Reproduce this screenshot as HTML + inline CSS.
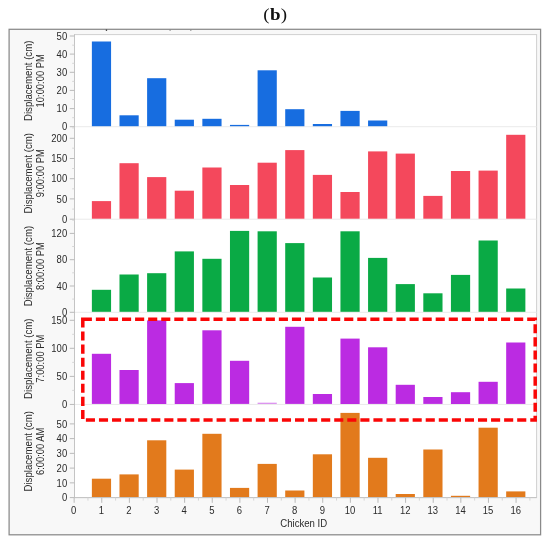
<!DOCTYPE html>
<html><head><meta charset="utf-8"><title>(b)</title>
<style>
html,body{margin:0;padding:0;background:#fff}
svg{display:block}
.t{font-family:"Liberation Sans",sans-serif;font-size:10px;fill:#2b2b2b}
.ttl{font-family:"Liberation Serif",serif;font-size:17px;fill:#111;letter-spacing:0.3px}
</style></head><body>
<svg width="550" height="545" viewBox="0 0 550 545">
<rect width="550" height="545" fill="#fff"/>
<rect x="9.1" y="29.3" width="531.5" height="505.5" fill="#f8f8f8" stroke="#8a8a8a" stroke-width="1.25"/>
<rect x="74.5" y="34.6" width="462.1" height="463.0" fill="#fff" stroke="#d0d0d0" stroke-width="1"/>
<line x1="74.5" x2="536.6" y1="126.7" y2="126.7" stroke="#eaeaea" stroke-width="1"/>
<line x1="74.5" x2="536.6" y1="219.2" y2="219.2" stroke="#eaeaea" stroke-width="1"/>
<line x1="74.5" x2="536.6" y1="312.3" y2="312.3" stroke="#eaeaea" stroke-width="1"/>
<line x1="74.5" x2="536.6" y1="404.45" y2="404.45" stroke="#eaeaea" stroke-width="1"/>
<rect x="91.87" y="41.5" width="19.2" height="84.7" fill="#176de0"/>
<rect x="119.49" y="115.3" width="19.2" height="10.9" fill="#176de0"/>
<rect x="147.11" y="78.2" width="19.2" height="48.0" fill="#176de0"/>
<rect x="174.73" y="119.7" width="19.2" height="6.5" fill="#176de0"/>
<rect x="202.35" y="118.8" width="19.2" height="7.4" fill="#176de0"/>
<rect x="229.97" y="124.9" width="19.2" height="1.3" fill="#176de0"/>
<rect x="257.59" y="70.3" width="19.2" height="55.9" fill="#176de0"/>
<rect x="285.21" y="109.2" width="19.2" height="17.0" fill="#176de0"/>
<rect x="312.83" y="124.0" width="19.2" height="2.2" fill="#176de0"/>
<rect x="340.45" y="110.9" width="19.2" height="15.3" fill="#176de0"/>
<rect x="368.07" y="120.5" width="19.2" height="5.7" fill="#176de0"/>
<rect x="91.87" y="201.1" width="19.2" height="17.6" fill="#f4485c"/>
<rect x="119.49" y="163.2" width="19.2" height="55.5" fill="#f4485c"/>
<rect x="147.11" y="177.1" width="19.2" height="41.6" fill="#f4485c"/>
<rect x="174.73" y="190.7" width="19.2" height="28.0" fill="#f4485c"/>
<rect x="202.35" y="167.5" width="19.2" height="51.2" fill="#f4485c"/>
<rect x="229.97" y="185.0" width="19.2" height="33.7" fill="#f4485c"/>
<rect x="257.59" y="162.7" width="19.2" height="56.0" fill="#f4485c"/>
<rect x="285.21" y="150.1" width="19.2" height="68.6" fill="#f4485c"/>
<rect x="312.83" y="174.9" width="19.2" height="43.8" fill="#f4485c"/>
<rect x="340.45" y="192.0" width="19.2" height="26.7" fill="#f4485c"/>
<rect x="368.07" y="151.4" width="19.2" height="67.3" fill="#f4485c"/>
<rect x="395.69" y="153.6" width="19.2" height="65.1" fill="#f4485c"/>
<rect x="423.31" y="195.9" width="19.2" height="22.8" fill="#f4485c"/>
<rect x="450.93" y="171.0" width="19.2" height="47.7" fill="#f4485c"/>
<rect x="478.55" y="170.6" width="19.2" height="48.1" fill="#f4485c"/>
<rect x="506.17" y="134.8" width="19.2" height="83.9" fill="#f4485c"/>
<rect x="91.87" y="289.8" width="19.2" height="22.0" fill="#0aaa45"/>
<rect x="119.49" y="274.5" width="19.2" height="37.3" fill="#0aaa45"/>
<rect x="147.11" y="273.2" width="19.2" height="38.6" fill="#0aaa45"/>
<rect x="174.73" y="251.4" width="19.2" height="60.4" fill="#0aaa45"/>
<rect x="202.35" y="258.8" width="19.2" height="53.0" fill="#0aaa45"/>
<rect x="229.97" y="230.9" width="19.2" height="80.9" fill="#0aaa45"/>
<rect x="257.59" y="231.3" width="19.2" height="80.5" fill="#0aaa45"/>
<rect x="285.21" y="243.1" width="19.2" height="68.7" fill="#0aaa45"/>
<rect x="312.83" y="277.5" width="19.2" height="34.3" fill="#0aaa45"/>
<rect x="340.45" y="231.3" width="19.2" height="80.5" fill="#0aaa45"/>
<rect x="368.07" y="257.9" width="19.2" height="53.9" fill="#0aaa45"/>
<rect x="395.69" y="284.1" width="19.2" height="27.7" fill="#0aaa45"/>
<rect x="423.31" y="293.3" width="19.2" height="18.5" fill="#0aaa45"/>
<rect x="450.93" y="274.9" width="19.2" height="36.9" fill="#0aaa45"/>
<rect x="478.55" y="240.5" width="19.2" height="71.3" fill="#0aaa45"/>
<rect x="506.17" y="288.5" width="19.2" height="23.3" fill="#0aaa45"/>
<rect x="91.87" y="353.8" width="19.2" height="50.1" fill="#bb2be2"/>
<rect x="119.49" y="370.0" width="19.2" height="33.9" fill="#bb2be2"/>
<rect x="147.11" y="320.4" width="19.2" height="83.6" fill="#bb2be2"/>
<rect x="174.73" y="383.1" width="19.2" height="20.9" fill="#bb2be2"/>
<rect x="202.35" y="330.3" width="19.2" height="73.6" fill="#bb2be2"/>
<rect x="229.97" y="360.8" width="19.2" height="43.1" fill="#bb2be2"/>
<rect x="257.59" y="402.7" width="19.2" height="1.2" fill="#bb2be2" fill-opacity="0.55"/>
<rect x="285.21" y="326.8" width="19.2" height="77.1" fill="#bb2be2"/>
<rect x="312.83" y="394.0" width="19.2" height="9.9" fill="#bb2be2"/>
<rect x="340.45" y="338.6" width="19.2" height="65.4" fill="#bb2be2"/>
<rect x="368.07" y="347.3" width="19.2" height="56.6" fill="#bb2be2"/>
<rect x="395.69" y="384.8" width="19.2" height="19.1" fill="#bb2be2"/>
<rect x="423.31" y="397.0" width="19.2" height="6.9" fill="#bb2be2"/>
<rect x="450.93" y="392.2" width="19.2" height="11.8" fill="#bb2be2"/>
<rect x="478.55" y="381.8" width="19.2" height="22.1" fill="#bb2be2"/>
<rect x="506.17" y="342.5" width="19.2" height="61.4" fill="#bb2be2"/>
<rect x="91.87" y="478.7" width="19.2" height="18.4" fill="#e27a1c"/>
<rect x="119.49" y="474.4" width="19.2" height="22.7" fill="#e27a1c"/>
<rect x="147.11" y="440.3" width="19.2" height="56.8" fill="#e27a1c"/>
<rect x="174.73" y="469.6" width="19.2" height="27.5" fill="#e27a1c"/>
<rect x="202.35" y="433.8" width="19.2" height="63.3" fill="#e27a1c"/>
<rect x="229.97" y="487.9" width="19.2" height="9.2" fill="#e27a1c"/>
<rect x="257.59" y="463.9" width="19.2" height="33.2" fill="#e27a1c"/>
<rect x="285.21" y="490.5" width="19.2" height="6.6" fill="#e27a1c"/>
<rect x="312.83" y="454.3" width="19.2" height="42.8" fill="#e27a1c"/>
<rect x="340.45" y="412.9" width="19.2" height="84.2" fill="#e27a1c"/>
<rect x="368.07" y="457.8" width="19.2" height="39.3" fill="#e27a1c"/>
<rect x="395.69" y="494.0" width="19.2" height="3.1" fill="#e27a1c"/>
<rect x="423.31" y="449.5" width="19.2" height="47.6" fill="#e27a1c"/>
<rect x="450.93" y="495.8" width="19.2" height="1.3" fill="#e27a1c"/>
<rect x="478.55" y="427.7" width="19.2" height="69.4" fill="#e27a1c"/>
<rect x="506.17" y="491.4" width="19.2" height="5.7" fill="#e27a1c"/>
<line x1="74.5" x2="74.5" y1="34.3" y2="497.6" stroke="#c4c4c4" stroke-width="1"/>
<line x1="74.5" x2="536.6" y1="497.6" y2="497.6" stroke="#c4c4c4" stroke-width="1"/>
<line x1="69.8" x2="74.5" y1="126.7" y2="126.7" stroke="#bababa" stroke-width="1"/>
<text transform="translate(67.2,130.3) scale(0.95,1)" text-anchor="end" class="t">0</text>
<line x1="69.8" x2="74.5" y1="108.6" y2="108.6" stroke="#bababa" stroke-width="1"/>
<text transform="translate(67.2,112.2) scale(0.95,1)" text-anchor="end" class="t">10</text>
<line x1="69.8" x2="74.5" y1="90.4" y2="90.4" stroke="#bababa" stroke-width="1"/>
<text transform="translate(67.2,94.0) scale(0.95,1)" text-anchor="end" class="t">20</text>
<line x1="69.8" x2="74.5" y1="72.3" y2="72.3" stroke="#bababa" stroke-width="1"/>
<text transform="translate(67.2,75.9) scale(0.95,1)" text-anchor="end" class="t">30</text>
<line x1="69.8" x2="74.5" y1="54.1" y2="54.1" stroke="#bababa" stroke-width="1"/>
<text transform="translate(67.2,57.7) scale(0.95,1)" text-anchor="end" class="t">40</text>
<line x1="69.8" x2="74.5" y1="36.0" y2="36.0" stroke="#bababa" stroke-width="1"/>
<text transform="translate(67.2,39.6) scale(0.95,1)" text-anchor="end" class="t">50</text>
<line x1="72.2" x2="74.5" y1="117.7" y2="117.7" stroke="#d2d2d2" stroke-width="0.9"/>
<line x1="72.2" x2="74.5" y1="99.5" y2="99.5" stroke="#d2d2d2" stroke-width="0.9"/>
<line x1="72.2" x2="74.5" y1="81.4" y2="81.4" stroke="#d2d2d2" stroke-width="0.9"/>
<line x1="72.2" x2="74.5" y1="63.3" y2="63.3" stroke="#d2d2d2" stroke-width="0.9"/>
<line x1="72.2" x2="74.5" y1="45.2" y2="45.2" stroke="#d2d2d2" stroke-width="0.9"/>
<text transform="translate(31.5,80.8) rotate(-90) scale(0.966,1)" text-anchor="middle" class="t">Displacement (cm)</text>
<text transform="translate(44.0,80.8) rotate(-90) scale(0.94,1)" text-anchor="middle" class="t">10:00:00 PM</text>
<line x1="69.8" x2="74.5" y1="219.2" y2="219.2" stroke="#bababa" stroke-width="1"/>
<text transform="translate(67.2,222.8) scale(0.95,1)" text-anchor="end" class="t">0</text>
<line x1="69.8" x2="74.5" y1="198.9" y2="198.9" stroke="#bababa" stroke-width="1"/>
<text transform="translate(67.2,202.5) scale(0.95,1)" text-anchor="end" class="t">50</text>
<line x1="69.8" x2="74.5" y1="178.7" y2="178.7" stroke="#bababa" stroke-width="1"/>
<text transform="translate(67.2,182.3) scale(0.95,1)" text-anchor="end" class="t">100</text>
<line x1="69.8" x2="74.5" y1="158.5" y2="158.5" stroke="#bababa" stroke-width="1"/>
<text transform="translate(67.2,162.1) scale(0.95,1)" text-anchor="end" class="t">150</text>
<line x1="69.8" x2="74.5" y1="138.3" y2="138.3" stroke="#bababa" stroke-width="1"/>
<text transform="translate(67.2,141.9) scale(0.95,1)" text-anchor="end" class="t">200</text>
<line x1="72.2" x2="74.5" y1="209.1" y2="209.1" stroke="#d2d2d2" stroke-width="0.9"/>
<line x1="72.2" x2="74.5" y1="188.8" y2="188.8" stroke="#d2d2d2" stroke-width="0.9"/>
<line x1="72.2" x2="74.5" y1="168.5" y2="168.5" stroke="#d2d2d2" stroke-width="0.9"/>
<line x1="72.2" x2="74.5" y1="148.2" y2="148.2" stroke="#d2d2d2" stroke-width="0.9"/>
<line x1="72.2" x2="74.5" y1="127.9" y2="127.9" stroke="#d2d2d2" stroke-width="0.9"/>
<text transform="translate(31.5,173.2) rotate(-90) scale(0.966,1)" text-anchor="middle" class="t">Displacement (cm)</text>
<text transform="translate(44.0,173.2) rotate(-90) scale(0.94,1)" text-anchor="middle" class="t">9:00:00 PM</text>
<line x1="69.8" x2="74.5" y1="312.3" y2="312.3" stroke="#bababa" stroke-width="1"/>
<text transform="translate(67.2,315.9) scale(0.95,1)" text-anchor="end" class="t">0</text>
<line x1="69.8" x2="74.5" y1="286.0" y2="286.0" stroke="#bababa" stroke-width="1"/>
<text transform="translate(67.2,289.6) scale(0.95,1)" text-anchor="end" class="t">40</text>
<line x1="69.8" x2="74.5" y1="259.7" y2="259.7" stroke="#bababa" stroke-width="1"/>
<text transform="translate(67.2,263.3) scale(0.95,1)" text-anchor="end" class="t">80</text>
<line x1="69.8" x2="74.5" y1="233.4" y2="233.4" stroke="#bababa" stroke-width="1"/>
<text transform="translate(67.2,237.0) scale(0.95,1)" text-anchor="end" class="t">120</text>
<line x1="72.2" x2="74.5" y1="299.1" y2="299.1" stroke="#d2d2d2" stroke-width="0.9"/>
<line x1="72.2" x2="74.5" y1="272.8" y2="272.8" stroke="#d2d2d2" stroke-width="0.9"/>
<line x1="72.2" x2="74.5" y1="246.5" y2="246.5" stroke="#d2d2d2" stroke-width="0.9"/>
<line x1="72.2" x2="74.5" y1="220.2" y2="220.2" stroke="#d2d2d2" stroke-width="0.9"/>
<text transform="translate(31.5,266.1) rotate(-90) scale(0.966,1)" text-anchor="middle" class="t">Displacement (cm)</text>
<text transform="translate(44.0,266.1) rotate(-90) scale(0.94,1)" text-anchor="middle" class="t">8:00:00 PM</text>
<line x1="69.8" x2="74.5" y1="404.45" y2="404.45" stroke="#bababa" stroke-width="1"/>
<text transform="translate(67.2,408.1) scale(0.95,1)" text-anchor="end" class="t">0</text>
<line x1="69.8" x2="74.5" y1="376.4" y2="376.4" stroke="#bababa" stroke-width="1"/>
<text transform="translate(67.2,380.0) scale(0.95,1)" text-anchor="end" class="t">50</text>
<line x1="69.8" x2="74.5" y1="348.3" y2="348.3" stroke="#bababa" stroke-width="1"/>
<text transform="translate(67.2,351.9) scale(0.95,1)" text-anchor="end" class="t">100</text>
<line x1="69.8" x2="74.5" y1="320.3" y2="320.3" stroke="#bababa" stroke-width="1"/>
<text transform="translate(67.2,323.9) scale(0.95,1)" text-anchor="end" class="t">150</text>
<line x1="72.2" x2="74.5" y1="390.4" y2="390.4" stroke="#d2d2d2" stroke-width="0.9"/>
<line x1="72.2" x2="74.5" y1="362.4" y2="362.4" stroke="#d2d2d2" stroke-width="0.9"/>
<line x1="72.2" x2="74.5" y1="334.3" y2="334.3" stroke="#d2d2d2" stroke-width="0.9"/>
<text transform="translate(31.5,358.7) rotate(-90) scale(0.966,1)" text-anchor="middle" class="t">Displacement (cm)</text>
<text transform="translate(44.0,358.7) rotate(-90) scale(0.94,1)" text-anchor="middle" class="t">7:00:00 PM</text>
<line x1="69.8" x2="74.5" y1="497.6" y2="497.6" stroke="#bababa" stroke-width="1"/>
<text transform="translate(67.2,501.2) scale(0.95,1)" text-anchor="end" class="t">0</text>
<line x1="69.8" x2="74.5" y1="482.85" y2="482.85" stroke="#bababa" stroke-width="1"/>
<text transform="translate(67.2,486.5) scale(0.95,1)" text-anchor="end" class="t">10</text>
<line x1="69.8" x2="74.5" y1="468.1" y2="468.1" stroke="#bababa" stroke-width="1"/>
<text transform="translate(67.2,471.7) scale(0.95,1)" text-anchor="end" class="t">20</text>
<line x1="69.8" x2="74.5" y1="453.35" y2="453.35" stroke="#bababa" stroke-width="1"/>
<text transform="translate(67.2,457.0) scale(0.95,1)" text-anchor="end" class="t">30</text>
<line x1="69.8" x2="74.5" y1="438.6" y2="438.6" stroke="#bababa" stroke-width="1"/>
<text transform="translate(67.2,442.2) scale(0.95,1)" text-anchor="end" class="t">40</text>
<line x1="69.8" x2="74.5" y1="423.9" y2="423.9" stroke="#bababa" stroke-width="1"/>
<text transform="translate(67.2,427.5) scale(0.95,1)" text-anchor="end" class="t">50</text>
<text transform="translate(31.5,451.3) rotate(-90) scale(0.966,1)" text-anchor="middle" class="t">Displacement (cm)</text>
<text transform="translate(44.0,451.3) rotate(-90) scale(0.94,1)" text-anchor="middle" class="t">6:00:00 AM</text>
<line x1="74.15" x2="74.15" y1="497.6" y2="502.8" stroke="#bababa" stroke-width="1"/>
<text transform="translate(73.75,514.2) scale(0.95,1)" text-anchor="middle" class="t">0</text>
<line x1="87.96" x2="87.96" y1="497.6" y2="500.6" stroke="#d2d2d2" stroke-width="0.9"/>
<line x1="101.77" x2="101.77" y1="497.6" y2="502.8" stroke="#bababa" stroke-width="1"/>
<text transform="translate(101.37,514.2) scale(0.95,1)" text-anchor="middle" class="t">1</text>
<line x1="115.58" x2="115.58" y1="497.6" y2="500.6" stroke="#d2d2d2" stroke-width="0.9"/>
<line x1="129.39" x2="129.39" y1="497.6" y2="502.8" stroke="#bababa" stroke-width="1"/>
<text transform="translate(128.99,514.2) scale(0.95,1)" text-anchor="middle" class="t">2</text>
<line x1="143.20" x2="143.20" y1="497.6" y2="500.6" stroke="#d2d2d2" stroke-width="0.9"/>
<line x1="157.01" x2="157.01" y1="497.6" y2="502.8" stroke="#bababa" stroke-width="1"/>
<text transform="translate(156.61,514.2) scale(0.95,1)" text-anchor="middle" class="t">3</text>
<line x1="170.82" x2="170.82" y1="497.6" y2="500.6" stroke="#d2d2d2" stroke-width="0.9"/>
<line x1="184.63" x2="184.63" y1="497.6" y2="502.8" stroke="#bababa" stroke-width="1"/>
<text transform="translate(184.23,514.2) scale(0.95,1)" text-anchor="middle" class="t">4</text>
<line x1="198.44" x2="198.44" y1="497.6" y2="500.6" stroke="#d2d2d2" stroke-width="0.9"/>
<line x1="212.25" x2="212.25" y1="497.6" y2="502.8" stroke="#bababa" stroke-width="1"/>
<text transform="translate(211.85,514.2) scale(0.95,1)" text-anchor="middle" class="t">5</text>
<line x1="226.06" x2="226.06" y1="497.6" y2="500.6" stroke="#d2d2d2" stroke-width="0.9"/>
<line x1="239.87" x2="239.87" y1="497.6" y2="502.8" stroke="#bababa" stroke-width="1"/>
<text transform="translate(239.47,514.2) scale(0.95,1)" text-anchor="middle" class="t">6</text>
<line x1="253.68" x2="253.68" y1="497.6" y2="500.6" stroke="#d2d2d2" stroke-width="0.9"/>
<line x1="267.49" x2="267.49" y1="497.6" y2="502.8" stroke="#bababa" stroke-width="1"/>
<text transform="translate(267.09,514.2) scale(0.95,1)" text-anchor="middle" class="t">7</text>
<line x1="281.30" x2="281.30" y1="497.6" y2="500.6" stroke="#d2d2d2" stroke-width="0.9"/>
<line x1="295.11" x2="295.11" y1="497.6" y2="502.8" stroke="#bababa" stroke-width="1"/>
<text transform="translate(294.71,514.2) scale(0.95,1)" text-anchor="middle" class="t">8</text>
<line x1="308.92" x2="308.92" y1="497.6" y2="500.6" stroke="#d2d2d2" stroke-width="0.9"/>
<line x1="322.73" x2="322.73" y1="497.6" y2="502.8" stroke="#bababa" stroke-width="1"/>
<text transform="translate(322.33,514.2) scale(0.95,1)" text-anchor="middle" class="t">9</text>
<line x1="336.54" x2="336.54" y1="497.6" y2="500.6" stroke="#d2d2d2" stroke-width="0.9"/>
<line x1="350.35" x2="350.35" y1="497.6" y2="502.8" stroke="#bababa" stroke-width="1"/>
<text transform="translate(349.95,514.2) scale(0.95,1)" text-anchor="middle" class="t">10</text>
<line x1="364.16" x2="364.16" y1="497.6" y2="500.6" stroke="#d2d2d2" stroke-width="0.9"/>
<line x1="377.97" x2="377.97" y1="497.6" y2="502.8" stroke="#bababa" stroke-width="1"/>
<text transform="translate(377.57,514.2) scale(0.95,1)" text-anchor="middle" class="t">11</text>
<line x1="391.78" x2="391.78" y1="497.6" y2="500.6" stroke="#d2d2d2" stroke-width="0.9"/>
<line x1="405.59" x2="405.59" y1="497.6" y2="502.8" stroke="#bababa" stroke-width="1"/>
<text transform="translate(405.19,514.2) scale(0.95,1)" text-anchor="middle" class="t">12</text>
<line x1="419.40" x2="419.40" y1="497.6" y2="500.6" stroke="#d2d2d2" stroke-width="0.9"/>
<line x1="433.21" x2="433.21" y1="497.6" y2="502.8" stroke="#bababa" stroke-width="1"/>
<text transform="translate(432.81,514.2) scale(0.95,1)" text-anchor="middle" class="t">13</text>
<line x1="447.02" x2="447.02" y1="497.6" y2="500.6" stroke="#d2d2d2" stroke-width="0.9"/>
<line x1="460.83" x2="460.83" y1="497.6" y2="502.8" stroke="#bababa" stroke-width="1"/>
<text transform="translate(460.43,514.2) scale(0.95,1)" text-anchor="middle" class="t">14</text>
<line x1="474.64" x2="474.64" y1="497.6" y2="500.6" stroke="#d2d2d2" stroke-width="0.9"/>
<line x1="488.45" x2="488.45" y1="497.6" y2="502.8" stroke="#bababa" stroke-width="1"/>
<text transform="translate(488.05,514.2) scale(0.95,1)" text-anchor="middle" class="t">15</text>
<line x1="502.26" x2="502.26" y1="497.6" y2="500.6" stroke="#d2d2d2" stroke-width="0.9"/>
<line x1="516.07" x2="516.07" y1="497.6" y2="502.8" stroke="#bababa" stroke-width="1"/>
<text transform="translate(515.67,514.2) scale(0.95,1)" text-anchor="middle" class="t">16</text>
<line x1="529.88" x2="529.88" y1="497.6" y2="500.6" stroke="#d2d2d2" stroke-width="0.9"/>
<text transform="translate(303.7,527.0) scale(0.96,1)" text-anchor="middle" class="t">Chicken ID</text>
<rect x="82.8" y="319.2" width="452.4" height="100.7" fill="none" stroke="#fa0606" stroke-width="3.5" stroke-dasharray="9.1 3.97"/>
<rect x="105.8" y="29.6" width="1.3" height="1.2" fill="#222"/>
<rect x="169.5" y="29.8" width="1.2" height="0.9" fill="#777"/>
<rect x="190.2" y="29.8" width="1.2" height="0.9" fill="#777"/>
<text transform="translate(275.4,19.6) scale(1.12,1)" text-anchor="middle" class="ttl">(<tspan font-weight="bold">b</tspan>)</text>
</svg>
</body></html>
